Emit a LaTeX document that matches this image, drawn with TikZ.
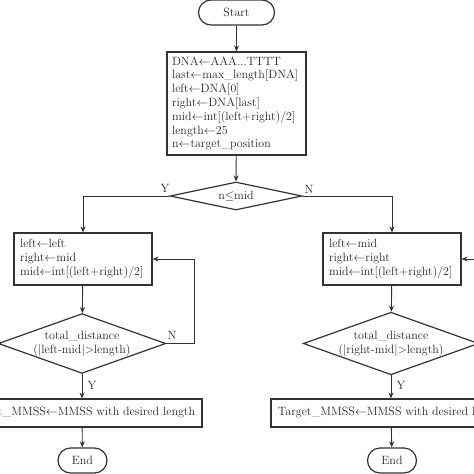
\documentclass[tikz,border=0pt]{standalone}
\usetikzlibrary{shapes.geometric,shapes.misc,arrows.meta}
\begin{document}
\begin{tikzpicture}[x=1pt,y=-1pt,
  every node/.style={font=\fontsize{12}{13.8}\selectfont, text=black!85},
  term/.style={rounded rectangle, draw=black!80, line width=1.2pt, minimum width=#1, minimum height=25pt, inner sep=0pt},
  proc/.style={rectangle, draw=black!80, line width=1.2pt, inner sep=0pt},
  dec/.style={diamond, draw=black!80, line width=1.2pt, inner sep=0pt, align=center},
  flow/.style={draw=black!80, line width=0.9pt, -{Stealth[length=6pt,width=5pt]}},
  lab/.style={inner sep=1pt}]
\useasboundingbox (0,0) rectangle (474,474);
\clip (0,0) rectangle (474,474);

% top
\node[term=76pt] (start) at (236.5,12.5) {Start};
\node[proc, minimum width=139pt, minimum height=103pt, text width=129pt, align=left] (init) at (236.5,103.5)
 {DNA$\leftarrow$AAA...TTTT\\
  last$\leftarrow$max\_length[DNA]\\
  left$\leftarrow$DNA[0]\\
  right$\leftarrow$DNA[last]\\
  mid$\leftarrow$int[(left+right)/2]\\
  length$\leftarrow$25\\
  n$\leftarrow$target\_position};
\node[dec, minimum width=132pt, minimum height=28pt, aspect=4.7] (d1) at (236,196) {n$\leq$mid};
\node[lab] at (165,188) {Y};
\node[lab] at (309,189) {N};

% left branch
\node[proc, minimum width=138pt, minimum height=52pt, text width=126pt, align=left] (lbox) at (83,259)
 {left$\leftarrow$left\\ right$\leftarrow$mid\\ mid$\leftarrow$int[(left+right)/2]};
\node[dec, minimum width=166pt, minimum height=59pt, aspect=2.8] (ld) at (82,343.5)
 {total\_distance\\(|left-mid|$>$length)};
\node[proc, minimum width=240pt, minimum height=28pt] (lf) at (82,413)
 {Target\_MMSS$\leftarrow$MMSS with desired length};
\node[term=49pt] (lend) at (82.5,460.5) {End};
\node[lab] at (172,335) {N};
\node[lab] at (92,385) {Y};
\coordinate (lc) at (194,343.5);

% right branch
\node[proc, minimum width=138pt, minimum height=52pt, text width=126pt, align=left] (rbox) at (392,259)
 {left$\leftarrow$mid\\ right$\leftarrow$right\\ mid$\leftarrow$int[(left+right)/2]};
\node[dec, minimum width=166pt, minimum height=59pt, aspect=2.8] (rd) at (391,343.5)
 {total\_distance\\(|right-mid|$>$length)};
\node[proc, minimum width=240pt, minimum height=28pt] (rf) at (391,413)
 {Target\_MMSS$\leftarrow$MMSS with desired length};
\node[term=49pt] (rend) at (392,460.5) {End};
\node[lab] at (401,385) {Y};
\coordinate (rc) at (503,343.5);

% connectors
\draw[flow] (start) -- (init);
\draw[flow] (init) -- (d1);
\draw[flow] (d1.west) -| (lbox.north);
\draw[flow] (d1.east) -| (rbox.north);
\draw[flow] (lbox) -- (ld);
\draw[flow] (ld) -- (lf);
\draw[flow] (lf) -- (lend);
\draw[flow] (ld.east) -- (lc) |- (lbox.east);
\draw[flow] (rbox) -- (rd);
\draw[flow] (rd) -- (rf);
\draw[flow] (rf) -- (rend);
\draw[flow] (rd.east) -- (rc) |- (rbox.east);
\end{tikzpicture}
\end{document}
